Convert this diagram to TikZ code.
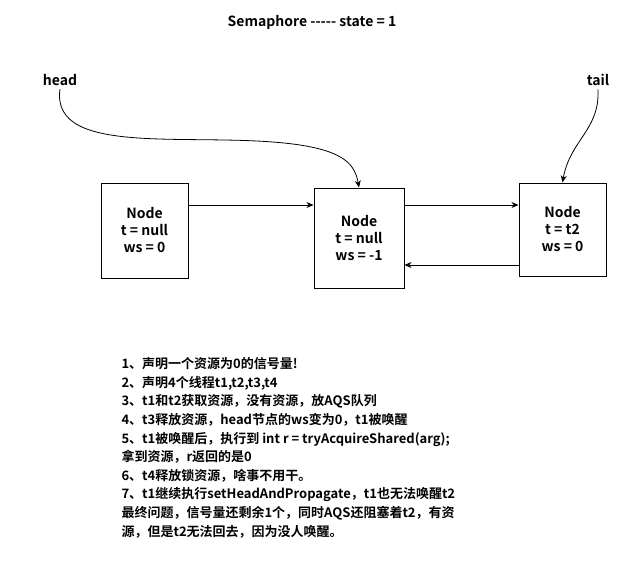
\documentclass[tikz,border=0pt]{standalone}
\usepackage{fontspec}
\setmainfont{Noto Sans CJK SC}[BoldFont={Noto Sans CJK SC Bold}]
\usetikzlibrary{arrows.meta}
\begin{document}
\begin{tikzpicture}[x=1pt,y=-1pt,
  box/.style={draw,line width=1pt,minimum width=#1,align=center,font=\fontsize{14}{17}\selectfont\bfseries,inner sep=0pt},
  lbl/.style={font=\fontsize{14}{16}\selectfont\bfseries},
  arr/.style={-{Stealth[length=7pt,width=6pt]},line width=0.8pt}]
\useasboundingbox (0,0) rectangle (640,573);
\node[lbl] (title) at (312,22) {Semaphore {-}{-}{-}{-}{-} state = 1};
\node[lbl] (head) at (60,80) {head};
\node[lbl] (tail) at (598,80) {tail};
\node[box=87pt,minimum height=95pt] (n1) at (144.5,230.5) {Node\\t = null\\ws = 0};
\node[box=90pt,minimum height=100pt] (n2) at (359,238) {Node\\t = null\\ws = -1};
\node[box=87pt,minimum height=93pt] (n3) at (562.5,229.5) {Node\\t = t2\\ws = 0};
\draw[arr] (n1.east |- 0,205) -- (n2.west |- 0,205);
\draw[arr] (n2.east |- 0,205) -- (n3.west |- 0,205);
\draw[arr] (n3.west |- 0,265) -- (n2.east |- 0,265);
\draw[arr] (head.south) .. controls (50,160) and (200,130) .. (300,145) .. controls (345,152) and (355,165) .. (n2.north);
\draw[arr] (tail.south) .. controls (600,130) and (570,140) .. (n3.north);
\node[lbl,anchor=north west,align=left,font=\fontsize{13}{18.6}\selectfont\bfseries] (txt) at (118,354) {1、声明一个资源为0的信号量!\\
2、声明4个线程t1,t2,t3,t4\\
3、t1和t2获取资源，没有资源，放AQS队列\\
4、t3释放资源，head节点的ws变为0，t1被唤醒\\
5、t1被唤醒后，执行到 int r = tryAcquireShared(arg);\\
拿到资源，r返回的是0\\
6、t4释放锁资源，啥事不用干。\\
7、t1继续执行setHeadAndPropagate，t1也无法唤醒t2\\
最终问题，信号量还剩余1个，同时AQS还阻塞着t2，有资\\
源，但是t2无法回去，因为没人唤醒。};
\end{tikzpicture}
\end{document}
